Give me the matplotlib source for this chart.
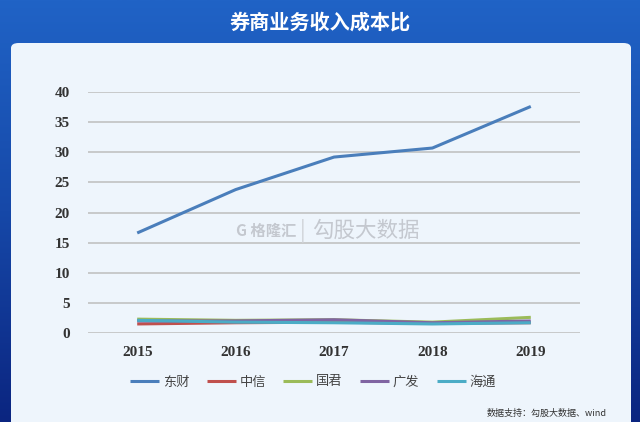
import matplotlib.pyplot as plt
import numpy as np
from matplotlib.colors import LinearSegmentedColormap
from matplotlib.patches import FancyBboxPatch

plt.rcParams['font.family'] = ['Noto Sans CJK SC', 'DejaVu Sans']

years = ["2015", "2016", "2017", "2018", "2019"]
dongcai = [16.6, 23.8, 29.2, 30.7, 37.6]
zhongxin = [1.5, 1.7, 1.8, 1.6, 1.7]
guojun = [2.3, 2.1, 2.2, 1.8, 2.6]
guangfa = [2.0, 2.0, 2.2, 1.7, 2.0]
haitong = [2.1, 1.8, 1.7, 1.5, 1.7]

series = [
    ("东财", dongcai, "#4a7ebb"),
    ("中信", zhongxin, "#c0504d"),
    ("国君", guojun, "#9bbb59"),
    ("广发", guangfa, "#8064a2"),
    ("海通", haitong, "#4bacc6"),
]

fig = plt.figure(figsize=(6.4, 4.22), dpi=100)

# blue gradient background
bg = fig.add_axes([0, 0, 1, 1])
grad = np.linspace(0, 1, 256).reshape(-1, 1)
cmap = LinearSegmentedColormap.from_list("bg", ["#2063c6", "#1648a8", "#0b2580"])
bg.imshow(grad, aspect="auto", cmap=cmap, extent=[0, 1, 0, 1], origin="upper")
bg.set_xlim(0, 1)
bg.set_ylim(0, 1)
bg.axis("off")

# light panel
panel = FancyBboxPatch((11 / 640, -0.05), 620 / 640, (422 - 43) / 422 + 0.05,
                       boxstyle="round,pad=0,rounding_size=0.012",
                       transform=bg.transAxes, facecolor="#eef5fc", edgecolor="none")
bg.add_patch(panel)

fig.text(0.5, 1 - 22 / 422, "券商业务收入成本比", color="white", fontsize=14.5,
         fontweight="bold", ha="center", va="center")

# watermark
fig.text(296 / 640, 1 - 231 / 422, "G 格隆汇", color="#c4c8cf", fontsize=11,
         ha="right", va="center", fontweight="bold")
fig.text(303 / 640, 1 - 231 / 422, "|", color="#d0d3d8", fontsize=15,
         ha="center", va="center")
fig.text(312 / 640, 1 - 231 / 422, "勾股大数据", color="#c4c8cf", fontsize=15.5,
         ha="left", va="center")

ax = fig.add_axes([88 / 640, 89 / 422, 492 / 640, 241 / 422])
ax.set_facecolor("none")
x = np.arange(len(years))
for name, vals, color in series:
    ax.plot(x, vals, color=color, lw=2.2, label=name, solid_capstyle="butt")

ax.set_xlim(-0.5, len(years) - 0.5)
ax.set_ylim(0, 40)
ax.set_yticks(range(0, 41, 5))
ax.set_xticks(x)
ax.set_xticklabels(years)
ax.grid(axis="y", color="#bdbdbd", lw=1.1)
ax.set_axisbelow(True)
for s in ax.spines.values():
    s.set_visible(False)
ax.tick_params(length=0)
ax.tick_params(axis="y", pad=13)
ax.tick_params(axis="x", pad=9)
for lbl in ax.get_xticklabels() + ax.get_yticklabels():
    lbl.set_fontfamily("Liberation Serif")
    lbl.set_fontweight("bold")
    lbl.set_fontsize(11)
    lbl.set_color("#333333")

fig.legend(loc="center", bbox_to_anchor=(313 / 640, 1 - 382 / 422), ncol=5,
           frameon=False, fontsize=9.5, handlelength=2.2, columnspacing=1.3,
           handletextpad=0.3, labelcolor="#444444")

fig.text(607 / 640, 1 - 413 / 422, "数据支持：勾股大数据、wind", color="#333333",
         fontsize=6.5, ha="right", va="center")

fig.savefig("out.png", dpi=100)
